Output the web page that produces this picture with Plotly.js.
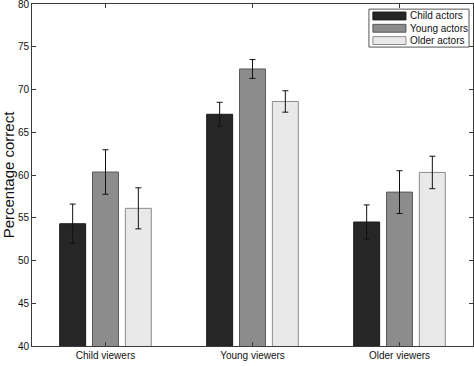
<!DOCTYPE html>
<html><head><meta charset="utf-8">
<script src="https://cdn.plot.ly/plotly-3.0.1.min.js"></script>
<style>html,body{margin:0;padding:0;background:#fff}#c{width:474px;height:366px}</style>
</head><body><div id="c"></div>
<script>
const categories = ["Child viewers", "Young viewers", "Older viewers"];
const seriesNames = ["Child actors", "Young actors", "Older actors"];
const childActors = [54.3, 67.1, 54.5];
const childActorsErr = [2.3, 1.4, 2.0];
const youngActors = [60.35, 72.4, 58.0];
const youngActorsErr = [2.6, 1.1, 2.5];
const olderActors = [56.1, 68.6, 60.3];
const olderActorsErr = [2.4, 1.25, 1.9];
const yTicks = [40, 45, 50, 55, 60, 65, 70, 75, 80];

const fills = ["#262626", "#8c8c8c", "#e9e9e9"];
const edges = ["#1a1a1a", "#5a5a5a", "#8a8a8a"];
const vals = [childActors, youngActors, olderActors];
const errs = [childActorsErr, youngActorsErr, olderActorsErr];

const traces = vals.map((v, i) => ({
  type: "bar", x: categories, y: v, name: seriesNames[i], showlegend: false,
  marker: {color: fills[i], line: {color: edges[i], width: 1}},
  error_y: {type: "data", array: errs[i], visible: true, color: "#111", thickness: 1, width: 3}
}));

// custom legend box (paper coordinates)
const shapes = [{type: "rect", xref: "paper", yref: "paper", x0: 0.764, x1: 0.991, y0: 0.874, y1: 0.985,
                 line: {color: "#555", width: 1}, fillcolor: "#fff", layer: "above"}];
const annotations = [];
const rowY = [0.965, 0.929, 0.893];
seriesNames.forEach((n, i) => {
  shapes.push({type: "rect", xref: "paper", yref: "paper", x0: 0.773, x1: 0.848,
               y0: rowY[i] - 0.0115, y1: rowY[i] + 0.0115,
               line: {color: edges[i], width: 1}, fillcolor: fills[i], layer: "above"});
  annotations.push({xref: "paper", yref: "paper", x: 0.853, y: rowY[i], xanchor: "left", yanchor: "middle",
                    text: n, showarrow: false, font: {size: 10, color: "#111"}});
});

const layout = {
  width: 474, height: 366,
  margin: {l: 32, r: 1, t: 4, b: 20},
  paper_bgcolor: "#fff", plot_bgcolor: "#fff",
  font: {family: "Liberation Sans, Arial, sans-serif", size: 10, color: "#111"},
  barmode: "group", bargap: 0.33, bargroupgap: 0.21,
  xaxis: {range: [-0.5, 2.5], showline: true, mirror: "ticks", linecolor: "#3a3a3a", linewidth: 1,
          ticks: "inside", ticklen: 4, tickcolor: "#3a3a3a", tickfont: {size: 10}, showgrid: false, fixedrange: true},
  yaxis: {range: [40, 80], tickvals: yTicks, showline: true, mirror: "ticks", linecolor: "#3a3a3a", linewidth: 1,
          ticks: "inside", ticklen: 4, tickcolor: "#3a3a3a", tickfont: {size: 10}, showgrid: false, zeroline: false,
          ticklabeloverflow: "allow",
          title: {text: "Percentage correct", font: {size: 15}, standoff: 4}},
  shapes: shapes, annotations: annotations,
  showlegend: false
};
Plotly.newPlot("c", traces, layout, {staticPlot: true, displayModeBar: false});
</script></body></html>
